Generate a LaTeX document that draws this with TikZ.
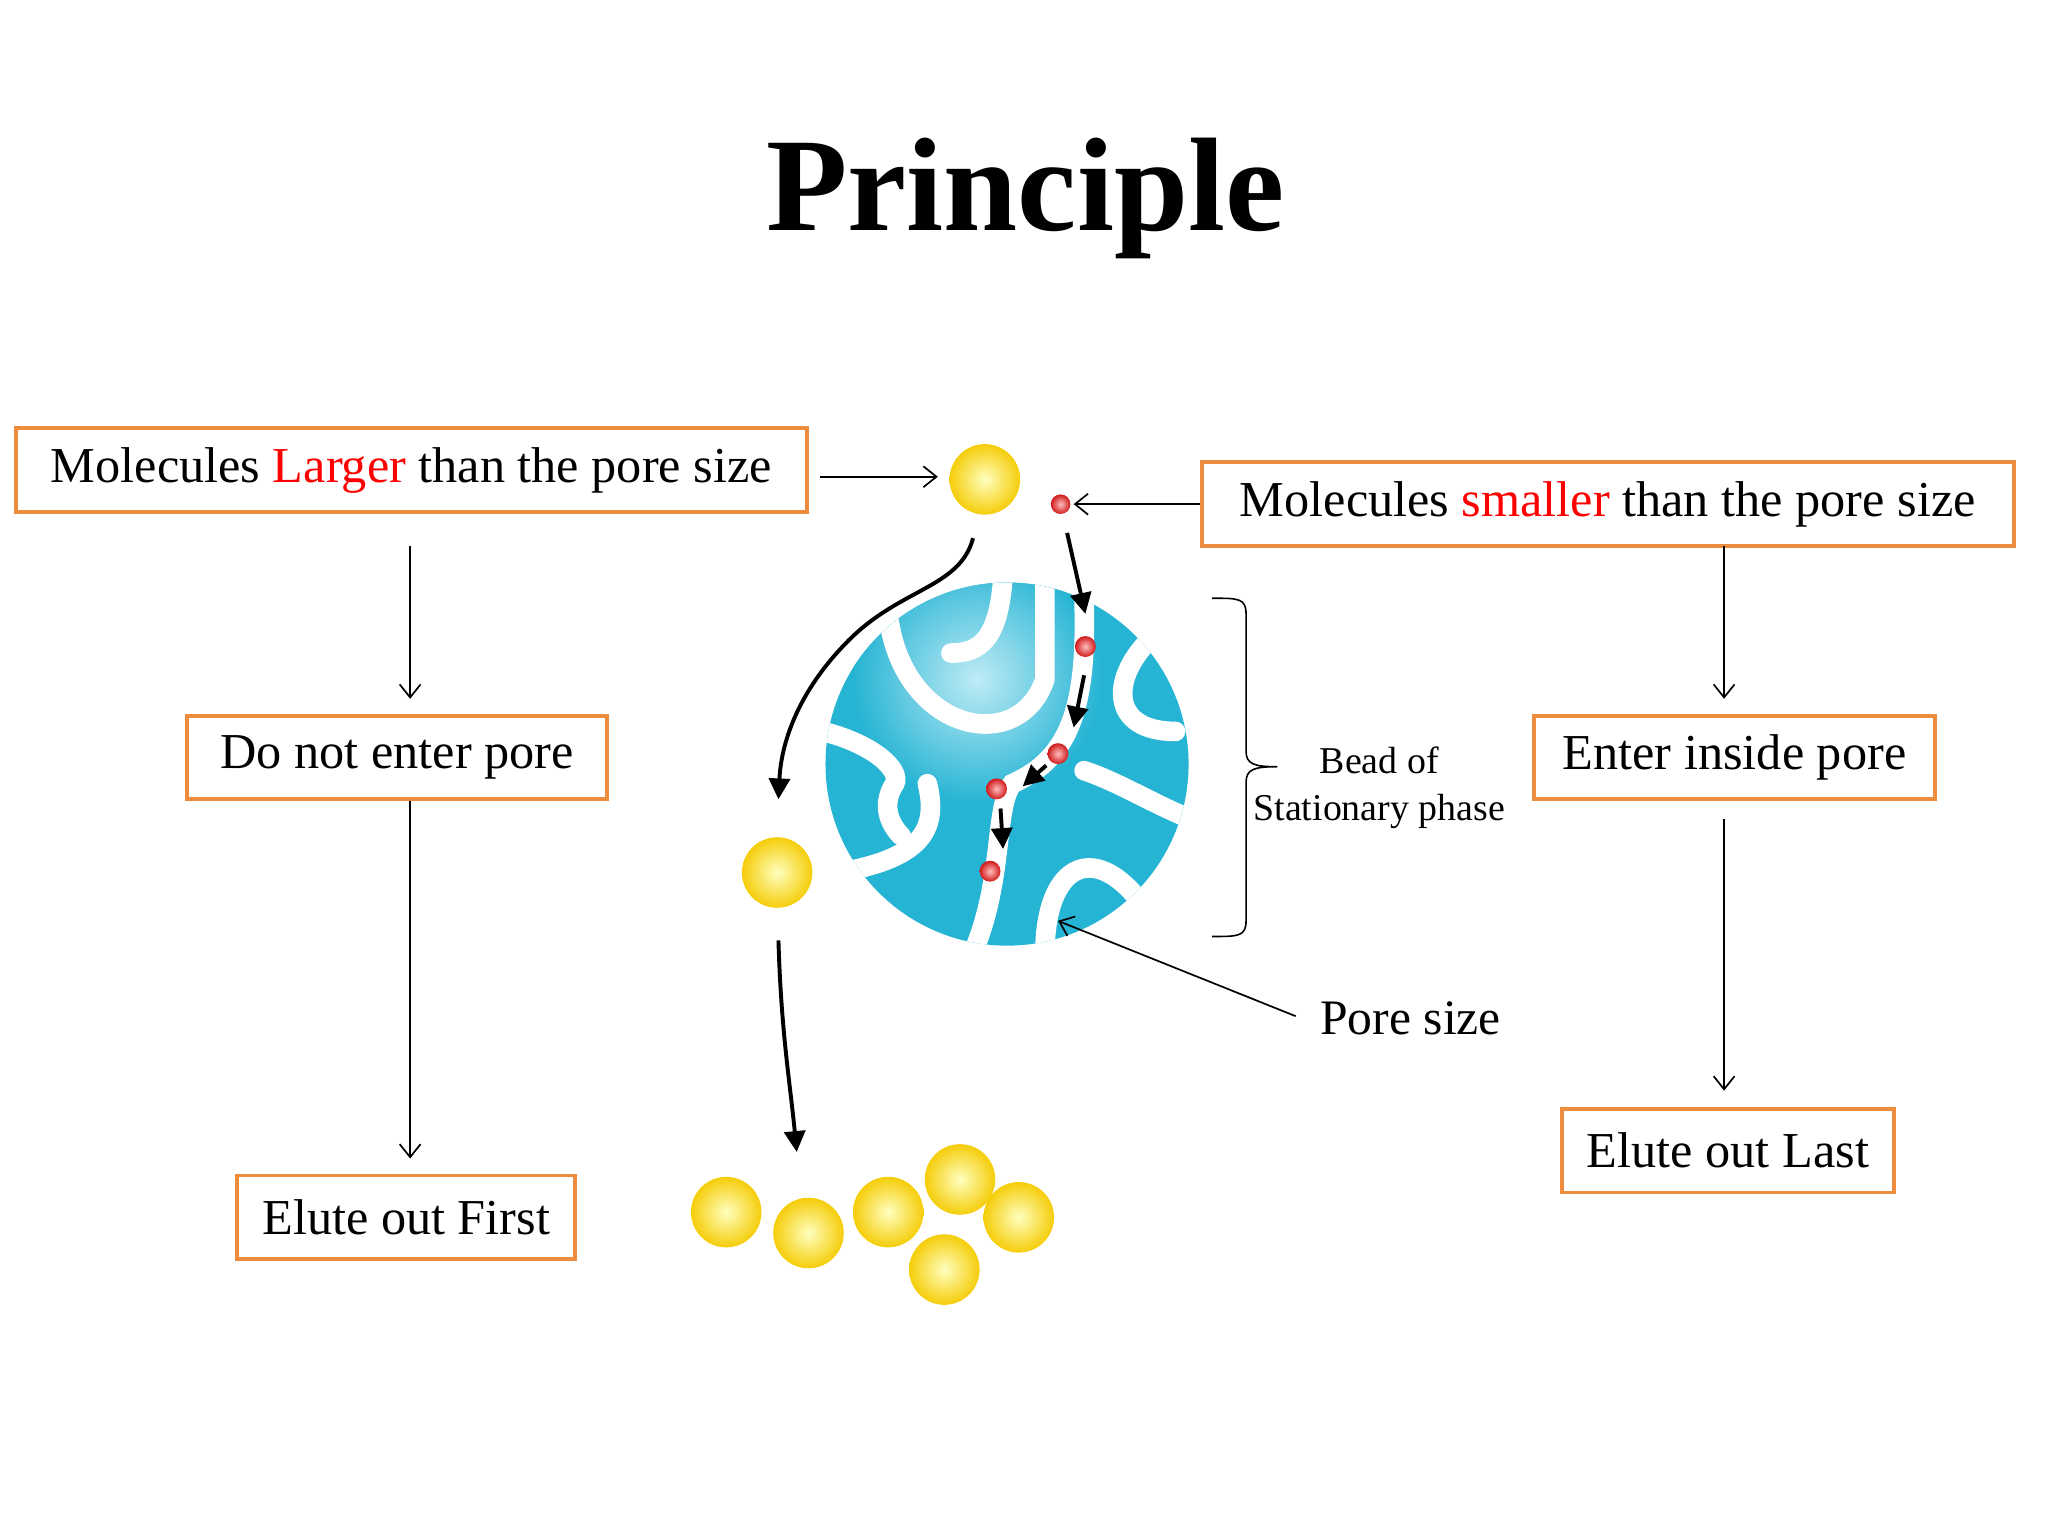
\documentclass[tikz,border=0pt]{standalone}
\usepackage{fontspec}
\setmainfont{Liberation Serif}
\usetikzlibrary{arrows.meta,decorations.pathreplacing}
\definecolor{boxor}{RGB}{237,140,60}
\definecolor{beadc}{RGB}{38,180,212}
\definecolor{beadl}{RGB}{190,235,245}
\definecolor{yel}{RGB}{245,205,10}
\begin{document}
\begin{tikzpicture}[x=1pt,y=-1pt,
  lbl/.style={draw=boxor,line width=3pt,font=\fontsize{38.5}{42}\selectfont,inner sep=0pt,minimum height=64pt},
  thin/.style={line width=1.3pt,-{Straight Barb[length=10pt,width=16pt]}},
  thick/.style={line width=3pt,-{Triangle[length=16pt,width=16pt]}},
  ybal/.style={inner color=yellow!25!white,outer color=yel},
  rbal/.style={inner color=red!25!white,outer color=red!80!black!90},
  chan/.style={white,line width=15pt,line cap=round}]
\useasboundingbox (0,0) rectangle (1568,1176);
\node (title) at (785,152) {\fontsize{102}{110}\selectfont\bfseries Principle};
\node[lbl,minimum width=606pt] (b1) at (315,360) {Molecules \textcolor{red}{Larger} than the pore size};
\node[lbl,minimum width=622pt] (b2) at (1231,386) {Molecules \textcolor{red}{smaller} than the pore size};
\node[lbl,minimum width=322pt] (b3) at (304,580) {Do not enter pore};
\node[lbl,minimum width=307pt] (b4) at (1328,580) {Enter inside pore};
\node[lbl,minimum width=259pt] (b5) at (311,932) {Elute out First};
\node[lbl,minimum width=254pt] (b6) at (1323,881) {Elute out Last};
% bead
\coordinate (bc) at (771,585);
\fill[beadc] (bc) circle (139);
\begin{scope}
\clip (bc) circle (139);
\shade[inner color=beadl,outer color=beadc] (748,520) circle (95);
\draw[chan] (680,470) .. controls (690,560) and (780,580) .. (800,520) -- (800,430);
\draw[chan] (768,440) .. controls (765,490) and (750,500) .. (728,500);
\draw[chan] (829,440) .. controls (835,540) and (820,580) .. (775,600) .. controls (760,620) and (770,680) .. (740,740);
\draw[chan] (630,560) .. controls (670,570) and (690,590) .. (685,600) .. controls (675,615) and (680,630) .. (690,640);
\draw[chan] (710,600) .. controls (720,640) and (700,660) .. (630,670);
\draw[chan] (880,490) .. controls (850,520) and (850,560) .. (900,560);
\draw[chan] (830,590) .. controls (860,600) and (890,620) .. (920,630);
\draw[chan] (800,730) .. controls (800,660) and (840,640) .. (880,700);
\end{scope}
% molecules
\coordinate (ytop) at (754,367);
\coordinate (yleft) at (595,668);
\shade[ybal] (ytop) circle (27);
\shade[ybal] (yleft) circle (27);
\foreach \p in {(556,928),(619,944),(680,928),(735,903),(780,932),(723,972)}
  \shade[ybal] \p circle (27);
\coordinate (rtop) at (812,386);
\shade[rbal] (rtop) circle (7.5);
\coordinate (r1) at (831,495); \coordinate (r2) at (810,577);
\coordinate (r3) at (763,604); \coordinate (r4) at (758,667);
\foreach \r in {r1,r2,r3,r4} \shade[rbal] (\r) circle (8);
% thick arrows
\draw[thick] (745,412) .. controls (735,450) and (690,450) .. (650,490) .. controls (610,530) and (598,570) .. (596,612);
\draw[thick] (596,720) .. controls (598,790) and (605,830) .. (610,882);
\draw[thick] (817,408) -- (831,470);
\draw[thick] (830,517) -- (822,557);
\draw[thick] (801,586) -- (783,602);
\draw[thick] (766,619) -- (768,650);
% thin arrows
\draw[thin] (628,365) -- (718,365);
\draw[thin] (b2.west) -- (822,386);
\draw[thin] (314,418) -- (314,535);
\draw[thin] (b3.south -| 314,0) -- (314,887);
\draw[thin] (1320,418) -- (1320,535);
\draw[thin] (1320,627) -- (1320,835);
% brace
\draw[line width=1.2pt] (928,458) .. controls (948,458) and (954,458) .. (954,470) -- (954,575) .. controls (954,585) and (960,587) .. (978,587)
  (954,599) .. controls (954,589) and (960,587) .. (978,587)
  (954,599) -- (954,705) .. controls (954,717) and (948,717) .. (928,717);
\node[font=\fontsize{29}{36}\selectfont,align=center] (bead) at (1056,603) {Bead of\\Stationary phase};
\node[font=\fontsize{38}{40}\selectfont] (pore) at (1080,780) {Pore size};
\draw[thin] (992,778) -- (810,705);
\end{tikzpicture}
\end{document}
